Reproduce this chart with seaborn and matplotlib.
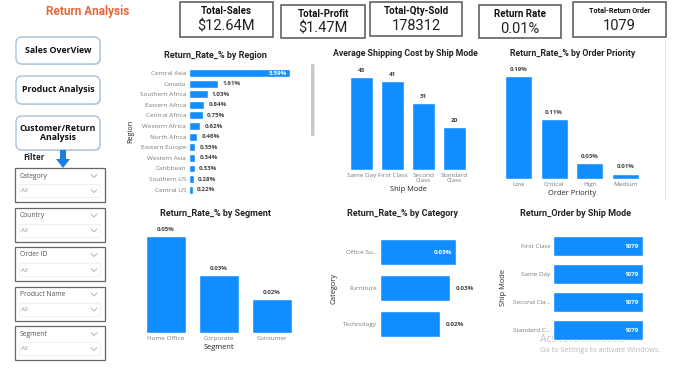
import matplotlib
matplotlib.use("Agg")
import matplotlib.pyplot as plt
from matplotlib.patches import Rectangle, FancyBboxPatch, Polygon
import seaborn as sns

# data
kpi_titles = ["Total-Sales", "Total-Profit", "Total-Qty-Sold", "Return Rate", "Total-Return Order"]
kpi_values = ["$12.64M", "$1.47M", "178312", "0.01%", "1079"]

regions = ["Central Asia", "Canada", "Southern Africa", "Eastern Africa", "Central Africa",
           "Western Africa", "North Africa", "Eastern Europe", "Western Asia", "Caribbean",
           "Southern US", "Central US"]
region_rate = [5.59, 1.61, 1.03, 0.84, 0.75, 0.62, 0.46, 0.35, 0.34, 0.33, 0.28, 0.22]

ship_modes = ["Same Day", "First Class", "Second\nClass", "Standard\nClass"]
ship_cost = [43, 41, 31, 20]

priorities = ["Low", "Critical", "High", "Medium"]
priority_rate = [0.19, 0.11, 0.03, 0.01]

segments = ["Home Office", "Corporate", "Consumer"]
segment_rate = [0.050, 0.030, 0.0175]

categories = ["Office Su...", "Furniture", "Technology"]
category_rate = [0.031, 0.0286, 0.0245]

order_modes = ["First Class", "Same Day", "Second Cla...", "Standard C..."]
return_orders = [1079, 1079, 1079, 1079]

nav_buttons = ["Sales OverView", "Product Analysis", "Customer/Return\nAnalysis"]
slicers = ["Category", "Country", "Order ID", "Product Name", "Segment"]

sns.set_theme(style="white")
plt.rcParams["font.family"] = ["Open Sans", "DejaVu Sans"]

W, H = 680, 375
BLUE = "#118DFF"
TICK = "#7a7a7a"
DARK = "#252423"
TFONT = ["Roboto", "DejaVu Sans"]
NFONT = ["Liberation Sans Narrow", "Roboto", "DejaVu Sans"]

fig = plt.figure(figsize=(W / 100, H / 100), dpi=100, facecolor="white")

base = fig.add_axes([0, 0, 1, 1])
base.set_xlim(0, W)
base.set_ylim(H, 0)
base.axis("off")


def px_axes(x0, y0, x1, y1):
    ax = fig.add_axes([x0 / W, 1 - y1 / H, (x1 - x0) / W, (y1 - y0) / H])
    ax.set_facecolor("none")
    return ax


def clean(ax):
    for s in ax.spines.values():
        s.set_visible(False)
    ax.tick_params(length=0, labelsize=4.6, labelcolor=TICK, pad=2)


# header
base.text(88, 11, "Return Analysis", color="#E8673A", fontsize=8.5, fontweight="bold",
          family=TFONT, ha="center", va="center")
boxes = [(180, 2, 273, 37), (281, 5, 365, 38), (370, 2, 462, 36), (479, 5, 561, 38), (573, 2, 666, 37)]
for (x0, y0, x1, y1), t, v in zip(boxes, kpi_titles, kpi_values):
    base.add_patch(Rectangle((x0, y0), x1 - x0, y1 - y0, fill=False, ec="#555555", lw=1.1))
    fs = 5.2 if len(t) > 15 else 7
    base.text((x0 + x1) / 2, y0 + 9, t, fontsize=fs, fontweight="bold", family=TFONT,
              ha="center", va="center", color="#111111")
    base.text((x0 + x1) / 2, y0 + 24, v, fontsize=10.5, family=NFONT,
              ha="center", va="center", color="#222222")

# navigation buttons
for (y0, y1), label in zip([(37, 64), (76, 104), (116, 150)], nav_buttons):
    base.add_patch(FancyBboxPatch((17, y0 + 1), 84, y1 - y0, boxstyle="round,pad=0,rounding_size=6",
                                  fc="#dde3ea", ec="none"))
    base.add_patch(FancyBboxPatch((16, y0), 84, y1 - y0, boxstyle="round,pad=0,rounding_size=6",
                                  fc="white", ec="#a8c3da", lw=1))
    base.text(58, (y0 + y1) / 2, label, fontsize=6.3, fontweight="bold", ha="center",
              va="center", color="#111111", linespacing=1.1)

# filter label + arrow
base.text(23, 158, "Filter", fontsize=5.8, fontweight="bold", color="#222222", va="center")
base.add_patch(Polygon([(60, 150), (66, 150), (66, 159), (70, 159), (63, 168), (56, 159), (60, 159)],
                       closed=True, fc="#1a7ee0", ec="none"))


def chevron(x, y):
    base.plot([x - 3, x, x + 3], [y - 1.5, y + 1.5, y - 1.5], color="#aaaaaa", lw=0.6)


for i, name in enumerate(slicers):
    y0 = 168 + i * 39.5
    base.add_patch(Rectangle((15, y0), 90, 34, fill=False, ec="#666666", lw=0.9))
    base.text(20, y0 + 8, name, fontsize=4.9, color="#555555", va="center")
    chevron(94, y0 + 8)
    base.add_patch(Rectangle((19, y0 + 16), 81, 13, fill=False, ec="#eeeeee", lw=0.6))
    base.text(21, y0 + 23, "All", fontsize=4.3, color="#999999", va="center")
    chevron(94, y0 + 23)

# panel separators
base.plot([665, 665], [40, 200], color="#e6e6e6", lw=0.8)

# --- Return rate by region
base.text(215, 55, "Return_Rate_% by Region", fontsize=6.5, fontweight="bold", family=TFONT,
          ha="center", va="center", color=DARK)
base.add_patch(FancyBboxPatch((311, 64), 3.5, 72, boxstyle="round,pad=0,rounding_size=1.5",
                              fc="#c8c8c8", ec="none"))
ax = px_axes(189, 67.7, 305, 195)
sns.barplot(x=region_rate, y=regions, ax=ax, color=BLUE, saturation=1, width=0.75)
xmax = 5.59 * 116 / 101
ax.set_xlim(0, xmax)
ax.set_ylim(len(regions) - 0.5, -0.5)
clean(ax)
ax.set_xticks([])
ax.set_ylabel("Region", fontsize=5.2, color=DARK, labelpad=4)
for i, v in enumerate(region_rate):
    if i == 0:
        ax.annotate(f"{v:.2f}%", (v, i), xytext=(-2, 0), textcoords="offset points", ha="right",
                    va="center", fontsize=4.5, fontweight="bold", color="white")
    else:
        ax.annotate(f"{v:.2f}%", (v, i), xytext=(3, 0), textcoords="offset points", ha="left",
                    va="center", fontsize=4.5, fontweight="bold", color="#444444")

# --- Average shipping cost by ship mode
base.text(405, 54, "Average Shipping Cost by Ship Mode", fontsize=6.3, fontweight="bold", family=TFONT,
          ha="center", va="center", color=DARK)
ax = px_axes(346, 60, 470, 170)
sns.barplot(x=ship_modes, y=ship_cost, ax=ax, color=BLUE, saturation=1, width=0.77)
ax.set_xlim(-0.5, 3.5)
ax.set_ylim(0, 43 * 110 / 93)
clean(ax)
ax.set_yticks([])
ax.set_xlabel("Ship Mode", fontsize=5.4, color=DARK, labelpad=2)
ax.bar_label(ax.containers[0], labels=[str(v) for v in ship_cost], fontsize=4.6,
             fontweight="bold", color="#444444", padding=3)
for t in ax.get_xticklabels():
    t.set_linespacing(1.0)

# --- Return rate by order priority
base.text(510, 54, "Return_Rate_% by Order Priority", fontsize=6.3, fontweight="bold", family=TFONT,
          ha="left", va="center", color=DARK)
ax = px_axes(500.6, 68, 643.4, 179)
sns.barplot(x=priorities, y=priority_rate, ax=ax, color=BLUE, saturation=1, width=0.76)
ax.set_xlim(-0.5, 3.5)
ax.set_ylim(0, 0.19 * 111 / 103)
clean(ax)
ax.set_yticks([])
ax.set_xlabel("Order Priority", fontsize=5.4, color=DARK, labelpad=2)
ax.bar_label(ax.containers[0], labels=[f"{v:.2f}%" for v in priority_rate], fontsize=4.4,
             fontweight="bold", color="#444444", padding=3)

# --- Return rate by segment
base.text(215, 213, "Return_Rate_% by Segment", fontsize=6.5, fontweight="bold", family=TFONT,
          ha="center", va="center", color=DARK)
ax = px_axes(139.5, 225, 298.5, 333)
sns.barplot(x=segments, y=segment_rate, ax=ax, color=BLUE, saturation=1, width=0.755)
ax.set_xlim(-0.5, 2.5)
ax.set_ylim(0, 0.05 * 108 / 97)
clean(ax)
ax.set_yticks([])
ax.set_xlabel("Segment", fontsize=5.4, color=DARK, labelpad=2)
ax.bar_label(ax.containers[0], labels=[f"{v:.2f}%" for v in segment_rate], fontsize=4.4,
             fontweight="bold", color="#444444", padding=3)

# --- Return rate by category
base.text(347, 213, "Return_Rate_% by Category", fontsize=6.5, fontweight="bold", family=TFONT,
          ha="left", va="center", color=DARK)
ax = px_axes(380, 234, 470, 342)
sns.barplot(x=category_rate, y=categories, ax=ax, color=BLUE, saturation=1, width=0.72)
ax.set_xlim(0, 0.031 * 90 / 76)
ax.set_ylim(2.5, -0.5)
clean(ax)
ax.set_xticks([])
ax.set_ylabel("Category", fontsize=5.4, color=DARK, labelpad=4)
for i, v in enumerate(category_rate):
    if i == 0:
        ax.annotate(f"{v:.2f}%", (v, i), xytext=(-3, 0), textcoords="offset points", ha="right",
                    va="center", fontsize=4.5, fontweight="bold", color="white")
    else:
        ax.annotate(f"{v:.2f}%", (v, i), xytext=(4, 0), textcoords="offset points", ha="left",
                    va="center", fontsize=4.5, fontweight="bold", color="#444444")

# --- Return orders by ship mode
base.text(575, 213, "Return_Order by Ship Mode", fontsize=6.5, fontweight="bold", family=TFONT,
          ha="center", va="center", color=DARK)
ax = px_axes(553, 232, 655, 344)
sns.barplot(x=return_orders, y=order_modes, ax=ax, color=BLUE, saturation=1, width=0.71)
ax.set_xlim(0, 1079 * 102 / 90)
ax.set_ylim(3.5, -0.5)
clean(ax)
ax.set_xticks([])
ax.set_ylabel("Ship Mode", fontsize=5.4, color=DARK, labelpad=4)
for i, v in enumerate(return_orders):
    ax.annotate(str(v), (v, i), xytext=(-3, 0), textcoords="offset points", ha="right",
                va="center", fontsize=4.5, fontweight="bold", color="white")

# windows watermark
base.text(540, 339, "Activate Windows", fontsize=7.5, color="#c4c4c4", va="center")
base.text(540, 351, "Go to Settings to activate Windows.", fontsize=5.3, color="#b8b8b8", va="center")

fig.savefig("out.png", dpi=100, facecolor="white")
